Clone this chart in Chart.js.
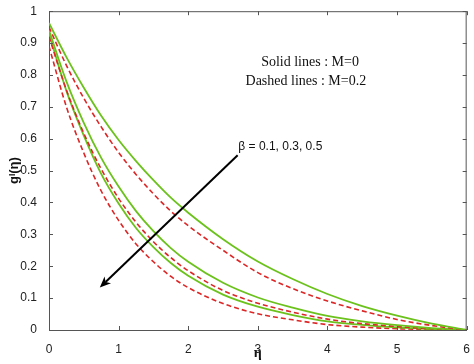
<!DOCTYPE html>
<html>
<head>
<meta charset="utf-8">
<script src="https://cdn.jsdelivr.net/npm/chart.js@4.4.1/dist/chart.umd.min.js"></script>
<style>
  html, body { margin: 0; padding: 0; background: #fff; overflow: hidden; }
  #wrap { width: 474px; height: 364px; }
</style>
</head>
<body>
<div id="wrap"><canvas id="chart" width="474" height="364"></canvas></div>
<script>
// eta grid shared by all curves
var etaValues = [0, 0.25, 0.5, 0.75, 1, 1.25, 1.5, 1.75, 2, 2.5, 3, 3.5, 4, 4.5, 5, 5.5, 6];

// solid lines, M = 0  (beta = 0.1, 0.3, 0.5)
var solidBeta01 = [0.963, 0.856, 0.76, 0.672, 0.596, 0.53, 0.47, 0.415, 0.368, 0.285, 0.215, 0.16, 0.113, 0.075, 0.045, 0.02, 0];
var solidBeta03 = [0.94, 0.78, 0.65, 0.54, 0.45, 0.373, 0.31, 0.257, 0.214, 0.148, 0.102, 0.07, 0.044, 0.027, 0.015, 0.006, 0];
var solidBeta05 = [0.93, 0.75, 0.61, 0.49, 0.397, 0.32, 0.26, 0.21, 0.17, 0.111, 0.073, 0.047, 0.027, 0.016, 0.008, 0.003, 0];

// dashed lines, M = 0.2
var dashBeta01 = [0.95, 0.83, 0.727, 0.637, 0.557, 0.488, 0.427, 0.373, 0.327, 0.25, 0.18, 0.13, 0.091, 0.06, 0.033, 0.014, 0];
var dashBeta03 = [0.92, 0.753, 0.617, 0.505, 0.413, 0.338, 0.277, 0.227, 0.186, 0.124, 0.084, 0.056, 0.034, 0.02, 0.011, 0.004, 0];
var dashBeta05 = [0.89, 0.70, 0.555, 0.436, 0.344, 0.27, 0.214, 0.168, 0.133, 0.083, 0.051, 0.032, 0.017, 0.009, 0.004, 0.0015, 0];

var xTicks = [0, 1, 2, 3, 4, 5, 6];
var yTicks = [0, 0.1, 0.2, 0.3, 0.4, 0.5, 0.6, 0.7, 0.8, 0.9, 1];

var green = '#6cc21c';
var red = '#dd2626';
var axisColor = '#555555';

function pts(vals) {
    return etaValues.map(function (e, i) { return { x: e, y: vals[i] }; });
}

function solid(vals) {
    return { data: pts(vals), borderColor: green, borderWidth: 1.8, pointRadius: 0, fill: false, cubicInterpolationMode: 'monotone' };
}
function dashed(vals) {
    return { data: pts(vals), borderColor: red, borderWidth: 1.6, borderDash: [5, 3], pointRadius: 0, fill: false, cubicInterpolationMode: 'monotone' };
}

// box, inward ticks and the annotations
var framePlugin = {
    id: 'frame',
    afterDraw: function (chart) {
        var c = chart.ctx, a = chart.chartArea;
        var xs = chart.scales.x, ys = chart.scales.y;
        c.save();
        c.strokeStyle = axisColor;
        c.lineWidth = 1;
        c.beginPath();
        c.moveTo(a.left, a.top + 0.5); c.lineTo(a.right, a.top + 0.5);
        c.moveTo(a.right - 0.5, a.top); c.lineTo(a.right - 0.5, a.bottom);
        xTicks.forEach(function (t) {
            var px = Math.round(xs.getPixelForValue(t)) + 0.5;
            c.moveTo(px, a.bottom); c.lineTo(px, a.bottom - 4);
            c.moveTo(px, a.top); c.lineTo(px, a.top + 4);
        });
        yTicks.forEach(function (t) {
            var py = Math.round(ys.getPixelForValue(t)) + 0.5;
            c.moveTo(a.left, py); c.lineTo(a.left + 4, py);
            c.moveTo(a.right, py); c.lineTo(a.right - 4, py);
        });
        c.stroke();

        // arrow through the curves
        var x1 = xs.getPixelForValue(2.71), y1 = ys.getPixelForValue(0.548);
        var x2 = xs.getPixelForValue(0.73), y2 = ys.getPixelForValue(0.133);
        c.strokeStyle = '#000';
        c.fillStyle = '#000';
        c.lineWidth = 2;
        var ang = Math.atan2(y2 - y1, x2 - x1);
        c.beginPath();
        c.moveTo(x1, y1);
        c.lineTo(x2 - 8 * Math.cos(ang), y2 - 8 * Math.sin(ang));
        c.stroke();
        c.beginPath();
        c.moveTo(x2, y2);
        c.lineTo(x2 - 12 * Math.cos(ang - 0.4), y2 - 12 * Math.sin(ang - 0.4));
        c.lineTo(x2 - 8 * Math.cos(ang), y2 - 8 * Math.sin(ang));
        c.lineTo(x2 - 12 * Math.cos(ang + 0.4), y2 - 12 * Math.sin(ang + 0.4));
        c.closePath();
        c.fill();

        c.fillStyle = '#111';
        c.textBaseline = 'middle';
        c.textAlign = 'center';
        c.font = '14px "Liberation Serif", "Times New Roman", serif';
        c.fillText('Solid lines : M=0', xs.getPixelForValue(3.75), ys.getPixelForValue(0.839));
        c.fillText('Dashed lines : M=0.2', xs.getPixelForValue(3.69), ys.getPixelForValue(0.78));
        c.textAlign = 'left';
        c.font = '12px "Liberation Sans", Arial, sans-serif';
        c.fillText('\u03b2 = 0.1, 0.3, 0.5', xs.getPixelForValue(2.72), ys.getPixelForValue(0.576));
        c.restore();
    }
};

var ctx = document.getElementById('chart').getContext('2d');
var chart = new Chart(ctx, {
    type: 'line',
    data: {
        datasets: [
            solid(solidBeta01), dashed(dashBeta01),
            solid(solidBeta03), dashed(dashBeta03),
            solid(solidBeta05), dashed(dashBeta05)
        ]
    },
    options: {
        responsive: false,
        animation: false,
        layout: { padding: { top: 7, right: 7, left: 0, bottom: 0 } },
        plugins: { legend: { display: false }, tooltip: { enabled: false } },
        scales: {
            x: {
                type: 'linear', min: 0, max: 6,
                afterBuildTicks: function (s) { s.ticks = xTicks.map(function (v) { return { value: v }; }); },
                grid: { display: false },
                border: { display: true, color: axisColor, width: 1 },
                ticks: { color: '#222', padding: 4, font: { size: 12, family: '"Liberation Sans", Arial, sans-serif' } },
                title: { display: true, text: '\u03b7', color: '#111', padding: 2,
                    font: { size: 14, weight: 'bold', family: '"Liberation Serif", serif' } },
                afterFit: function (s) { s.height = 34; }
            },
            y: {
                type: 'linear', min: 0, max: 1,
                afterBuildTicks: function (s) { s.ticks = yTicks.map(function (v) { return { value: v }; }); },
                grid: { display: false },
                border: { display: true, color: axisColor, width: 1 },
                ticks: { color: '#222', padding: 4, font: { size: 12, family: '"Liberation Sans", Arial, sans-serif' },
                    callback: function (v) { return String(v); } },
                title: { display: true, text: 'g\u1d35(\u03b7)', color: '#111', padding: 7,
                    font: { size: 13, weight: 'bold', family: '"Liberation Sans", Arial, sans-serif' } },
                afterFit: function (s) { s.width = 49; }
            }
        }
    },
    plugins: [framePlugin]
});
</script>
</body>
</html>
